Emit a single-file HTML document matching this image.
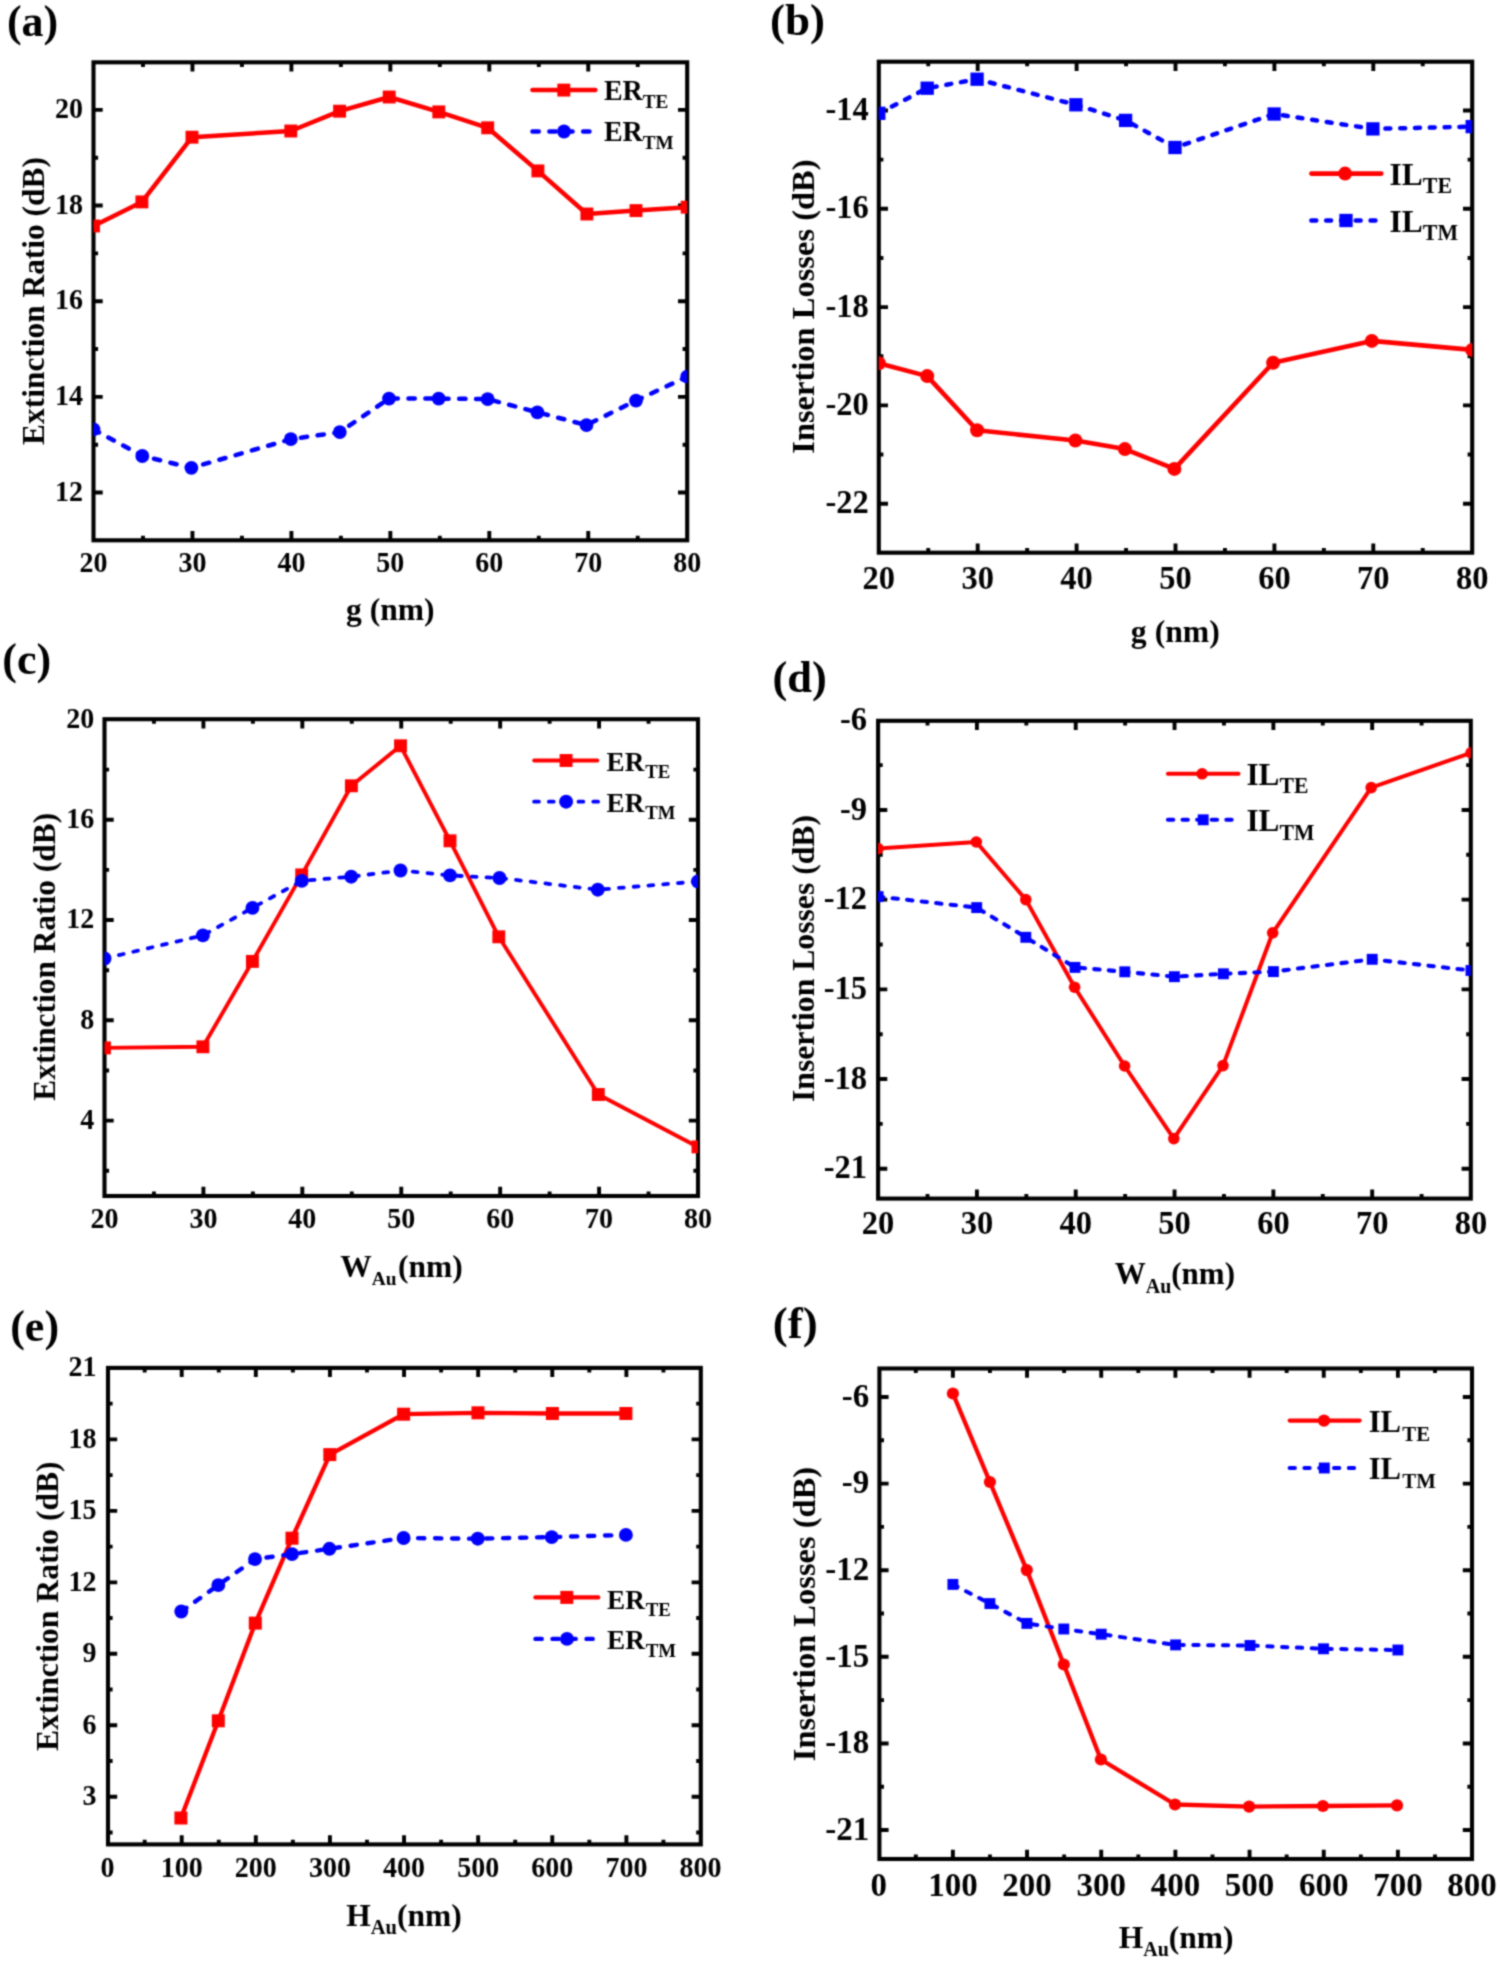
<!DOCTYPE html>
<html><head><meta charset="utf-8"><style>
html,body{margin:0;padding:0;background:#fff;}
svg{display:block;}
text{font-family:"Liberation Serif", serif;font-weight:bold;fill:#000;}
</style></head><body>
<svg xmlns="http://www.w3.org/2000/svg" width="1500" height="1961" viewBox="0 0 1500 1961">
<defs><filter id="soft" color-interpolation-filters="sRGB" x="0" y="0" width="100%" height="100%" filterUnits="userSpaceOnUse"><feConvolveMatrix order="5" kernelMatrix="0.00009 0.00198 0.00548 0.00198 0.00009 0.00198 0.04220 0.11707 0.04220 0.00198 0.00548 0.11707 0.32480 0.11707 0.00548 0.00198 0.04220 0.11707 0.04220 0.00198 0.00009 0.00198 0.00548 0.00198 0.00009" divisor="1" edgeMode="duplicate" preserveAlpha="false"/></filter></defs>
<rect width="1500" height="1961" fill="#fff"/>
<g filter="url(#soft)">
<rect width="1500" height="1961" fill="#fff"/>
<clipPath id="clipa"><rect x="93.5" y="62.3" width="593.7" height="478"/></clipPath>
<path d="M192.45 540.3v-9.2M192.45 62.3v9.2M291.4 540.3v-9.2M291.4 62.3v9.2M390.35 540.3v-9.2M390.35 62.3v9.2M489.3 540.3v-9.2M489.3 62.3v9.2M588.25 540.3v-9.2M588.25 62.3v9.2M142.98 540.3v-4.6M142.98 62.3v4.6M241.93 540.3v-4.6M241.93 62.3v4.6M340.88 540.3v-4.6M340.88 62.3v4.6M439.83 540.3v-4.6M439.83 62.3v4.6M538.78 540.3v-4.6M538.78 62.3v4.6M637.73 540.3v-4.6M637.73 62.3v4.6M93.5 492.56h9.2M687.2 492.56h-9.2M93.5 396.88h9.2M687.2 396.88h-9.2M93.5 301.2h9.2M687.2 301.2h-9.2M93.5 205.52h9.2M687.2 205.52h-9.2M93.5 109.84h9.2M687.2 109.84h-9.2M93.5 444.72h4.6M687.2 444.72h-4.6M93.5 349.04h4.6M687.2 349.04h-4.6M93.5 253.36h4.6M687.2 253.36h-4.6M93.5 157.68h4.6M687.2 157.68h-4.6" stroke="#000" stroke-width="3.9" fill="none"/>
<rect x="93.5" y="62.3" width="593.7" height="478" fill="none" stroke="#000" stroke-width="4.1"/>
<text transform="translate(82.9 500.82) scale(1 1.04)" text-anchor="end" font-size="28">12</text>
<text transform="translate(82.9 405.14) scale(1 1.04)" text-anchor="end" font-size="28">14</text>
<text transform="translate(82.9 309.46) scale(1 1.04)" text-anchor="end" font-size="28">16</text>
<text transform="translate(82.9 213.78) scale(1 1.04)" text-anchor="end" font-size="28">18</text>
<text transform="translate(82.9 118.1) scale(1 1.04)" text-anchor="end" font-size="28">20</text>
<text transform="translate(93.5 571.5) scale(1 1.04)" text-anchor="middle" font-size="28">20</text>
<text transform="translate(192.45 571.5) scale(1 1.04)" text-anchor="middle" font-size="28">30</text>
<text transform="translate(291.4 571.5) scale(1 1.04)" text-anchor="middle" font-size="28">40</text>
<text transform="translate(390.35 571.5) scale(1 1.04)" text-anchor="middle" font-size="28">50</text>
<text transform="translate(489.3 571.5) scale(1 1.04)" text-anchor="middle" font-size="28">60</text>
<text transform="translate(588.25 571.5) scale(1 1.04)" text-anchor="middle" font-size="28">70</text>
<text transform="translate(687.2 571.5) scale(1 1.04)" text-anchor="middle" font-size="28">80</text>
<text transform="translate(43.6 301) rotate(-90) scale(1 1.0)" text-anchor="middle" font-size="31.4">Extinction Ratio (dB)</text>
<text transform="translate(390.2 620) scale(1 1.0)" text-anchor="middle" font-size="31.5">g (nm)</text>
<text transform="translate(6.9 35.6) scale(1 1.0)" font-size="44">(a)</text>
<g clip-path="url(#clipa)">
<path d="M93.5 226 L141.9 201.9 L192 137.2 L290.8 131 L339.6 111.2 L389.2 97 L438.8 111.9 L487.7 127.8 L537.9 170.9 L586.9 214 L636 210.6 L687.2 207.2" stroke="#ff0000" stroke-width="4.5" fill="none" stroke-linejoin="round"/>
<path d="M93.5 429.4 L142.3 456 L191.4 467.8 L290.8 439.2 L339.8 432.1 L389 398.6 L438.7 398.6 L487.7 399.1 L537.4 412.3 L586.5 425.1 L636 400.6 L687.2 376.7" stroke="#0000ff" stroke-width="4.5" fill="none" stroke-linejoin="round" stroke-dasharray="6.3 10.6" stroke-linecap="round"/>
<rect x="87.05" y="219.55" width="12.9" height="12.9" fill="#ff0000"/>
<rect x="135.45" y="195.45" width="12.9" height="12.9" fill="#ff0000"/>
<rect x="185.55" y="130.75" width="12.9" height="12.9" fill="#ff0000"/>
<rect x="284.35" y="124.55" width="12.9" height="12.9" fill="#ff0000"/>
<rect x="333.15" y="104.75" width="12.9" height="12.9" fill="#ff0000"/>
<rect x="382.75" y="90.55" width="12.9" height="12.9" fill="#ff0000"/>
<rect x="432.35" y="105.45" width="12.9" height="12.9" fill="#ff0000"/>
<rect x="481.25" y="121.35" width="12.9" height="12.9" fill="#ff0000"/>
<rect x="531.45" y="164.45" width="12.9" height="12.9" fill="#ff0000"/>
<rect x="580.45" y="207.55" width="12.9" height="12.9" fill="#ff0000"/>
<rect x="629.55" y="204.15" width="12.9" height="12.9" fill="#ff0000"/>
<rect x="680.75" y="200.75" width="12.9" height="12.9" fill="#ff0000"/>
<circle cx="93.5" cy="429.4" r="6.9" fill="#0000ff"/>
<circle cx="142.3" cy="456" r="6.9" fill="#0000ff"/>
<circle cx="191.4" cy="467.8" r="6.9" fill="#0000ff"/>
<circle cx="290.8" cy="439.2" r="6.9" fill="#0000ff"/>
<circle cx="339.8" cy="432.1" r="6.9" fill="#0000ff"/>
<circle cx="389" cy="398.6" r="6.9" fill="#0000ff"/>
<circle cx="438.7" cy="398.6" r="6.9" fill="#0000ff"/>
<circle cx="487.7" cy="399.1" r="6.9" fill="#0000ff"/>
<circle cx="537.4" cy="412.3" r="6.9" fill="#0000ff"/>
<circle cx="586.5" cy="425.1" r="6.9" fill="#0000ff"/>
<circle cx="636" cy="400.6" r="6.9" fill="#0000ff"/>
<circle cx="687.2" cy="376.7" r="6.9" fill="#0000ff"/>
</g>
<path d="M532.45 90.1H595.35" stroke="#ff0000" stroke-width="4.5" stroke-linecap="round"/>
<rect x="557.35" y="83.65" width="12.9" height="12.9" fill="#ff0000"/>
<text transform="translate(603.9 100.4) scale(1 1.03)" font-size="28">ER<tspan font-size="19.2" dx="0" dy="7.3">TE</tspan></text>
<path d="M532.45 131.5H591" stroke="#0000ff" stroke-width="4.5" stroke-linecap="round" stroke-dasharray="6.3 10.6"/>
<circle cx="564" cy="131.5" r="6.9" fill="#0000ff"/>
<text transform="translate(603.9 141.4) scale(1 1.03)" font-size="28">ER<tspan font-size="19.2" dx="0" dy="7.3">TM</tspan></text>
<clipPath id="clipb"><rect x="878.8" y="61.7" width="593.4" height="491"/></clipPath>
<path d="M977.7 552.7v-9.2M977.7 61.7v9.2M1076.6 552.7v-9.2M1076.6 61.7v9.2M1175.5 552.7v-9.2M1175.5 61.7v9.2M1274.4 552.7v-9.2M1274.4 61.7v9.2M1373.3 552.7v-9.2M1373.3 61.7v9.2M928.25 552.7v-4.6M928.25 61.7v4.6M1027.15 552.7v-4.6M1027.15 61.7v4.6M1126.05 552.7v-4.6M1126.05 61.7v4.6M1224.95 552.7v-4.6M1224.95 61.7v4.6M1323.85 552.7v-4.6M1323.85 61.7v4.6M1422.75 552.7v-4.6M1422.75 61.7v4.6M878.8 110.5h9.2M1472.2 110.5h-9.2M878.8 208.8h9.2M1472.2 208.8h-9.2M878.8 307.1h9.2M1472.2 307.1h-9.2M878.8 405.4h9.2M1472.2 405.4h-9.2M878.8 503.7h9.2M1472.2 503.7h-9.2M878.8 159.65h4.6M1472.2 159.65h-4.6M878.8 257.95h4.6M1472.2 257.95h-4.6M878.8 356.25h4.6M1472.2 356.25h-4.6M878.8 454.55h4.6M1472.2 454.55h-4.6" stroke="#000" stroke-width="3.9" fill="none"/>
<rect x="878.8" y="61.7" width="593.4" height="491" fill="none" stroke="#000" stroke-width="4.1"/>
<text transform="translate(868.7 120.09) scale(1 1.04)" text-anchor="end" font-size="32.5">-14</text>
<text transform="translate(868.7 218.39) scale(1 1.04)" text-anchor="end" font-size="32.5">-16</text>
<text transform="translate(868.7 316.69) scale(1 1.04)" text-anchor="end" font-size="32.5">-18</text>
<text transform="translate(868.7 414.99) scale(1 1.04)" text-anchor="end" font-size="32.5">-20</text>
<text transform="translate(868.7 513.29) scale(1 1.04)" text-anchor="end" font-size="32.5">-22</text>
<text transform="translate(878.8 589) scale(1 1.04)" text-anchor="middle" font-size="32.5">20</text>
<text transform="translate(977.7 589) scale(1 1.04)" text-anchor="middle" font-size="32.5">30</text>
<text transform="translate(1076.6 589) scale(1 1.04)" text-anchor="middle" font-size="32.5">40</text>
<text transform="translate(1175.5 589) scale(1 1.04)" text-anchor="middle" font-size="32.5">50</text>
<text transform="translate(1274.4 589) scale(1 1.04)" text-anchor="middle" font-size="32.5">60</text>
<text transform="translate(1373.3 589) scale(1 1.04)" text-anchor="middle" font-size="32.5">70</text>
<text transform="translate(1472.2 589) scale(1 1.04)" text-anchor="middle" font-size="32.5">80</text>
<text transform="translate(813.6 306.6) rotate(-90) scale(1 1.0)" text-anchor="middle" font-size="32.5">Insertion Losses (dB)</text>
<text transform="translate(1175.3 642) scale(1 1.0)" text-anchor="middle" font-size="31.7">g (nm)</text>
<text transform="translate(770.1 35) scale(1 1.0)" font-size="45">(b)</text>
<g clip-path="url(#clipb)">
<path d="M878.8 363.3 L927.2 376.1 L977.1 430.3 L1075.4 440.5 L1124.9 449.1 L1174.4 468.9 L1273.1 362.7 L1371.8 340.9 L1472.2 349.9" stroke="#ff0000" stroke-width="4.6" fill="none" stroke-linejoin="round"/>
<path d="M878.8 113.3 L927.2 88.2 L977.1 79.2 L1075.9 104.8 L1125.6 120.4 L1175 147.5 L1274.1 114 L1372.9 128.9 L1472.2 126.6" stroke="#0000ff" stroke-width="4.5" fill="none" stroke-linejoin="round" stroke-dasharray="4.9 9.9" stroke-linecap="round"/>
<circle cx="878.8" cy="363.3" r="7" fill="#ff0000"/>
<circle cx="927.2" cy="376.1" r="7" fill="#ff0000"/>
<circle cx="977.1" cy="430.3" r="7" fill="#ff0000"/>
<circle cx="1075.4" cy="440.5" r="7" fill="#ff0000"/>
<circle cx="1124.9" cy="449.1" r="7" fill="#ff0000"/>
<circle cx="1174.4" cy="468.9" r="7" fill="#ff0000"/>
<circle cx="1273.1" cy="362.7" r="7" fill="#ff0000"/>
<circle cx="1371.8" cy="340.9" r="7" fill="#ff0000"/>
<circle cx="1472.2" cy="349.9" r="7" fill="#ff0000"/>
<rect x="872.15" y="106.65" width="13.3" height="13.3" fill="#0000ff"/>
<rect x="920.55" y="81.55" width="13.3" height="13.3" fill="#0000ff"/>
<rect x="970.45" y="72.55" width="13.3" height="13.3" fill="#0000ff"/>
<rect x="1069.25" y="98.15" width="13.3" height="13.3" fill="#0000ff"/>
<rect x="1118.95" y="113.75" width="13.3" height="13.3" fill="#0000ff"/>
<rect x="1168.35" y="140.85" width="13.3" height="13.3" fill="#0000ff"/>
<rect x="1267.45" y="107.35" width="13.3" height="13.3" fill="#0000ff"/>
<rect x="1366.25" y="122.25" width="13.3" height="13.3" fill="#0000ff"/>
<rect x="1465.55" y="119.95" width="13.3" height="13.3" fill="#0000ff"/>
</g>
<path d="M1311.4 173.6H1381.3" stroke="#ff0000" stroke-width="4.6" stroke-linecap="round"/>
<circle cx="1345.1" cy="173.6" r="7" fill="#ff0000"/>
<text transform="translate(1389.6 184.8) scale(1 1.03)" font-size="31.5">IL<tspan font-size="21.9" dx="0" dy="8.3">TE</tspan></text>
<path d="M1311.35 220.5H1376" stroke="#0000ff" stroke-width="4.5" stroke-linecap="round" stroke-dasharray="4.9 9.9"/>
<rect x="1339.35" y="213.85" width="13.3" height="13.3" fill="#0000ff"/>
<text transform="translate(1389.6 231.8) scale(1 1.03)" font-size="31.5">IL<tspan font-size="21.9" dx="0" dy="8.3">TM</tspan></text>
<clipPath id="clipc"><rect x="104.5" y="719.2" width="593.5" height="476.8"/></clipPath>
<path d="M203.42 1196v-9.2M203.42 719.2v9.2M302.33 1196v-9.2M302.33 719.2v9.2M401.25 1196v-9.2M401.25 719.2v9.2M500.17 1196v-9.2M500.17 719.2v9.2M599.08 1196v-9.2M599.08 719.2v9.2M153.96 1196v-4.6M153.96 719.2v4.6M252.88 1196v-4.6M252.88 719.2v4.6M351.79 1196v-4.6M351.79 719.2v4.6M450.71 1196v-4.6M450.71 719.2v4.6M549.62 1196v-4.6M549.62 719.2v4.6M648.54 1196v-4.6M648.54 719.2v4.6M104.5 1120.59h9.2M698 1120.59h-9.2M104.5 1020.32h9.2M698 1020.32h-9.2M104.5 920.05h9.2M698 920.05h-9.2M104.5 819.77h9.2M698 819.77h-9.2M104.5 1170.73h4.6M698 1170.73h-4.6M104.5 1070.46h4.6M698 1070.46h-4.6M104.5 970.18h4.6M698 970.18h-4.6M104.5 869.91h4.6M698 869.91h-4.6M104.5 769.64h4.6M698 769.64h-4.6" stroke="#000" stroke-width="3.9" fill="none"/>
<rect x="104.5" y="719.2" width="593.5" height="476.8" fill="none" stroke="#000" stroke-width="4.1"/>
<text transform="translate(94.3 1128.85) scale(1 1.04)" text-anchor="end" font-size="28">4</text>
<text transform="translate(94.3 1028.58) scale(1 1.04)" text-anchor="end" font-size="28">8</text>
<text transform="translate(94.3 928.31) scale(1 1.04)" text-anchor="end" font-size="28">12</text>
<text transform="translate(94.3 828.03) scale(1 1.04)" text-anchor="end" font-size="28">16</text>
<text transform="translate(94.3 727.76) scale(1 1.04)" text-anchor="end" font-size="28">20</text>
<text transform="translate(104.5 1228) scale(1 1.04)" text-anchor="middle" font-size="28">20</text>
<text transform="translate(203.42 1228) scale(1 1.04)" text-anchor="middle" font-size="28">30</text>
<text transform="translate(302.33 1228) scale(1 1.04)" text-anchor="middle" font-size="28">40</text>
<text transform="translate(401.25 1228) scale(1 1.04)" text-anchor="middle" font-size="28">50</text>
<text transform="translate(500.17 1228) scale(1 1.04)" text-anchor="middle" font-size="28">60</text>
<text transform="translate(599.08 1228) scale(1 1.04)" text-anchor="middle" font-size="28">70</text>
<text transform="translate(698 1228) scale(1 1.04)" text-anchor="middle" font-size="28">80</text>
<text transform="translate(54.6 956.8) rotate(-90) scale(1 1.0)" text-anchor="middle" font-size="31.4">Extinction Ratio (dB)</text>
<text transform="translate(340.2 1276.7) scale(1 1.0)" font-size="31.5">W<tspan font-size="19.4" dy="7.8">Au</tspan><tspan dx="1.4" dy="-7.8" font-size="31.5">(nm)</tspan></text>
<text transform="translate(2.3 673.5) scale(1 1.0)" font-size="44">(c)</text>
<g clip-path="url(#clipc)">
<path d="M104.5 1047.9 L202.9 1046.8 L252.4 961.4 L301.7 874.9 L351.4 785.8 L400.5 745.8 L450 840.8 L498.8 936.8 L598.3 1094.5 L698 1146.9" stroke="#ff0000" stroke-width="3.9" fill="none" stroke-linejoin="round"/>
<path d="M104.5 958.5 L202.9 935.4 L252.4 907.9 L301.7 880.9 L351.2 876.7 L400.5 870.5 L450 875.4 L499.5 878 L597.8 889.7 L698 881.5" stroke="#0000ff" stroke-width="3.8" fill="none" stroke-linejoin="round" stroke-dasharray="4.8 10.0" stroke-linecap="round"/>
<rect x="98.05" y="1041.45" width="12.9" height="12.9" fill="#ff0000"/>
<rect x="196.45" y="1040.35" width="12.9" height="12.9" fill="#ff0000"/>
<rect x="245.95" y="954.95" width="12.9" height="12.9" fill="#ff0000"/>
<rect x="295.25" y="868.45" width="12.9" height="12.9" fill="#ff0000"/>
<rect x="344.95" y="779.35" width="12.9" height="12.9" fill="#ff0000"/>
<rect x="394.05" y="739.35" width="12.9" height="12.9" fill="#ff0000"/>
<rect x="443.55" y="834.35" width="12.9" height="12.9" fill="#ff0000"/>
<rect x="492.35" y="930.35" width="12.9" height="12.9" fill="#ff0000"/>
<rect x="591.85" y="1088.05" width="12.9" height="12.9" fill="#ff0000"/>
<rect x="691.55" y="1140.45" width="12.9" height="12.9" fill="#ff0000"/>
<circle cx="104.5" cy="958.5" r="6.95" fill="#0000ff"/>
<circle cx="202.9" cy="935.4" r="6.95" fill="#0000ff"/>
<circle cx="252.4" cy="907.9" r="6.95" fill="#0000ff"/>
<circle cx="301.7" cy="880.9" r="6.95" fill="#0000ff"/>
<circle cx="351.2" cy="876.7" r="6.95" fill="#0000ff"/>
<circle cx="400.5" cy="870.5" r="6.95" fill="#0000ff"/>
<circle cx="450" cy="875.4" r="6.95" fill="#0000ff"/>
<circle cx="499.5" cy="878" r="6.95" fill="#0000ff"/>
<circle cx="597.8" cy="889.7" r="6.95" fill="#0000ff"/>
<circle cx="698" cy="881.5" r="6.95" fill="#0000ff"/>
</g>
<path d="M534.15 760.5H597.35" stroke="#ff0000" stroke-width="3.9" stroke-linecap="round"/>
<rect x="559.65" y="754.05" width="12.9" height="12.9" fill="#ff0000"/>
<text transform="translate(606.5 770.9) scale(1 1.03)" font-size="27.2">ER<tspan font-size="18.7" dx="1" dy="6.8">TE</tspan></text>
<path d="M534.1 801.7H598.1" stroke="#0000ff" stroke-width="3.8" stroke-linecap="round" stroke-dasharray="4.8 10.0"/>
<circle cx="566.1" cy="801.7" r="6.95" fill="#0000ff"/>
<text transform="translate(606.5 812.1) scale(1 1.03)" font-size="27.2">ER<tspan font-size="18.7" dx="1" dy="6.8">TM</tspan></text>
<clipPath id="clipd"><rect x="878.1" y="720.8" width="592.7" height="477.8"/></clipPath>
<path d="M976.92 1198.6v-9.2M976.92 720.8v9.2M1075.73 1198.6v-9.2M1075.73 720.8v9.2M1174.55 1198.6v-9.2M1174.55 720.8v9.2M1273.37 1198.6v-9.2M1273.37 720.8v9.2M1372.18 1198.6v-9.2M1372.18 720.8v9.2M927.51 1198.6v-4.6M927.51 720.8v4.6M1026.33 1198.6v-4.6M1026.33 720.8v4.6M1125.14 1198.6v-4.6M1125.14 720.8v4.6M1223.96 1198.6v-4.6M1223.96 720.8v4.6M1322.78 1198.6v-4.6M1322.78 720.8v4.6M1421.59 1198.6v-4.6M1421.59 720.8v4.6M878.1 809.98h9.2M1470.8 809.98h-9.2M878.1 899.66h9.2M1470.8 899.66h-9.2M878.1 989.34h9.2M1470.8 989.34h-9.2M878.1 1079.02h9.2M1470.8 1079.02h-9.2M878.1 1168.71h9.2M1470.8 1168.71h-9.2M878.1 765.14h4.6M1470.8 765.14h-4.6M878.1 854.82h4.6M1470.8 854.82h-4.6M878.1 944.5h4.6M1470.8 944.5h-4.6M878.1 1034.18h4.6M1470.8 1034.18h-4.6M878.1 1123.87h4.6M1470.8 1123.87h-4.6" stroke="#000" stroke-width="3.9" fill="none"/>
<rect x="878.1" y="720.8" width="592.7" height="477.8" fill="none" stroke="#000" stroke-width="4.1"/>
<text transform="translate(867 729.89) scale(1 1.04)" text-anchor="end" font-size="32.5">-6</text>
<text transform="translate(867 819.57) scale(1 1.04)" text-anchor="end" font-size="32.5">-9</text>
<text transform="translate(867 909.25) scale(1 1.04)" text-anchor="end" font-size="32.5">-12</text>
<text transform="translate(867 998.93) scale(1 1.04)" text-anchor="end" font-size="32.5">-15</text>
<text transform="translate(867 1088.61) scale(1 1.04)" text-anchor="end" font-size="32.5">-18</text>
<text transform="translate(867 1178.29) scale(1 1.04)" text-anchor="end" font-size="32.5">-21</text>
<text transform="translate(878.1 1234) scale(1 1.04)" text-anchor="middle" font-size="32.5">20</text>
<text transform="translate(976.92 1234) scale(1 1.04)" text-anchor="middle" font-size="32.5">30</text>
<text transform="translate(1075.73 1234) scale(1 1.04)" text-anchor="middle" font-size="32.5">40</text>
<text transform="translate(1174.55 1234) scale(1 1.04)" text-anchor="middle" font-size="32.5">50</text>
<text transform="translate(1273.37 1234) scale(1 1.04)" text-anchor="middle" font-size="32.5">60</text>
<text transform="translate(1372.18 1234) scale(1 1.04)" text-anchor="middle" font-size="32.5">70</text>
<text transform="translate(1471 1234) scale(1 1.04)" text-anchor="middle" font-size="32.5">80</text>
<text transform="translate(813.6 958.5) rotate(-90) scale(1 1.0)" text-anchor="middle" font-size="31.7">Insertion Losses (dB)</text>
<text transform="translate(1114.7 1284.4) scale(1 1.0)" font-size="31">W<tspan font-size="20" dy="8.6">Au</tspan><tspan dx="0" dy="-8.6" font-size="31">(nm)</tspan></text>
<text transform="translate(772.4 692.2) scale(1 1.0)" font-size="44.5">(d)</text>
<g clip-path="url(#clipd)">
<path d="M878.1 848.6 L976.3 842 L1025.8 899.6 L1074.6 987.2 L1124.6 1066 L1173.8 1138.6 L1223 1065.6 L1272.7 932.8 L1371.2 787.6 L1471 752.8" stroke="#ff0000" stroke-width="4" fill="none" stroke-linejoin="round"/>
<path d="M878.1 896.6 L976.7 907.6 L1025.8 937.3 L1075 967.4 L1124.8 971.8 L1174.4 976.7 L1223.4 973.8 L1273.4 971.6 L1372.2 959.3 L1471 970.5" stroke="#0000ff" stroke-width="4.1" fill="none" stroke-linejoin="round" stroke-dasharray="5.3 9.3" stroke-linecap="round"/>
<circle cx="878.1" cy="848.6" r="5.8" fill="#ff0000"/>
<circle cx="976.3" cy="842" r="5.8" fill="#ff0000"/>
<circle cx="1025.8" cy="899.6" r="5.8" fill="#ff0000"/>
<circle cx="1074.6" cy="987.2" r="5.8" fill="#ff0000"/>
<circle cx="1124.6" cy="1066" r="5.8" fill="#ff0000"/>
<circle cx="1173.8" cy="1138.6" r="5.8" fill="#ff0000"/>
<circle cx="1223" cy="1065.6" r="5.8" fill="#ff0000"/>
<circle cx="1272.7" cy="932.8" r="5.8" fill="#ff0000"/>
<circle cx="1371.2" cy="787.6" r="5.8" fill="#ff0000"/>
<circle cx="1471" cy="752.8" r="5.8" fill="#ff0000"/>
<rect x="872.65" y="891.15" width="10.9" height="10.9" fill="#0000ff"/>
<rect x="971.25" y="902.15" width="10.9" height="10.9" fill="#0000ff"/>
<rect x="1020.35" y="931.85" width="10.9" height="10.9" fill="#0000ff"/>
<rect x="1069.55" y="961.95" width="10.9" height="10.9" fill="#0000ff"/>
<rect x="1119.35" y="966.35" width="10.9" height="10.9" fill="#0000ff"/>
<rect x="1168.95" y="971.25" width="10.9" height="10.9" fill="#0000ff"/>
<rect x="1217.95" y="968.35" width="10.9" height="10.9" fill="#0000ff"/>
<rect x="1267.95" y="966.15" width="10.9" height="10.9" fill="#0000ff"/>
<rect x="1366.75" y="953.85" width="10.9" height="10.9" fill="#0000ff"/>
<rect x="1465.55" y="965.05" width="10.9" height="10.9" fill="#0000ff"/>
</g>
<path d="M1167.9 773.8H1238.5" stroke="#ff0000" stroke-width="4" stroke-linecap="round"/>
<circle cx="1202.1" cy="773.8" r="5.8" fill="#ff0000"/>
<text transform="translate(1246.4 784.6) scale(1 1.03)" font-size="31.3">IL<tspan font-size="21.7" dx="0" dy="8.4">TE</tspan></text>
<path d="M1167.95 819.8H1231.7" stroke="#0000ff" stroke-width="4.1" stroke-linecap="round" stroke-dasharray="5.3 9.3"/>
<rect x="1197.75" y="814.35" width="10.9" height="10.9" fill="#0000ff"/>
<text transform="translate(1246.4 831) scale(1 1.03)" font-size="31.3">IL<tspan font-size="21.7" dx="0" dy="8.4">TM</tspan></text>
<clipPath id="clipe"><rect x="108" y="1367.9" width="592.8" height="476.5"/></clipPath>
<path d="M181.71 1844.4v-9.2M181.71 1367.9v9.2M255.82 1844.4v-9.2M255.82 1367.9v9.2M329.94 1844.4v-9.2M329.94 1367.9v9.2M404.05 1844.4v-9.2M404.05 1367.9v9.2M478.16 1844.4v-9.2M478.16 1367.9v9.2M552.27 1844.4v-9.2M552.27 1367.9v9.2M626.39 1844.4v-9.2M626.39 1367.9v9.2M144.66 1844.4v-4.6M144.66 1367.9v4.6M218.77 1844.4v-4.6M218.77 1367.9v4.6M292.88 1844.4v-4.6M292.88 1367.9v4.6M366.99 1844.4v-4.6M366.99 1367.9v4.6M441.11 1844.4v-4.6M441.11 1367.9v4.6M515.22 1844.4v-4.6M515.22 1367.9v4.6M589.33 1844.4v-4.6M589.33 1367.9v4.6M663.44 1844.4v-4.6M663.44 1367.9v4.6M108 1796.75h9.2M700.8 1796.75h-9.2M108 1725.28h9.2M700.8 1725.28h-9.2M108 1653.8h9.2M700.8 1653.8h-9.2M108 1582.33h9.2M700.8 1582.33h-9.2M108 1510.85h9.2M700.8 1510.85h-9.2M108 1439.38h9.2M700.8 1439.38h-9.2M108 1832.49h4.6M700.8 1832.49h-4.6M108 1761.01h4.6M700.8 1761.01h-4.6M108 1689.54h4.6M700.8 1689.54h-4.6M108 1618.06h4.6M700.8 1618.06h-4.6M108 1546.59h4.6M700.8 1546.59h-4.6M108 1475.11h4.6M700.8 1475.11h-4.6M108 1403.64h4.6M700.8 1403.64h-4.6" stroke="#000" stroke-width="3.9" fill="none"/>
<rect x="108" y="1367.9" width="592.8" height="476.5" fill="none" stroke="#000" stroke-width="4.1"/>
<text transform="translate(96.5 1805.01) scale(1 1.04)" text-anchor="end" font-size="28">3</text>
<text transform="translate(96.5 1733.54) scale(1 1.04)" text-anchor="end" font-size="28">6</text>
<text transform="translate(96.5 1662.06) scale(1 1.04)" text-anchor="end" font-size="28">9</text>
<text transform="translate(96.5 1590.59) scale(1 1.04)" text-anchor="end" font-size="28">12</text>
<text transform="translate(96.5 1519.11) scale(1 1.04)" text-anchor="end" font-size="28">15</text>
<text transform="translate(96.5 1447.63) scale(1 1.04)" text-anchor="end" font-size="28">18</text>
<text transform="translate(96.5 1376.16) scale(1 1.04)" text-anchor="end" font-size="28">21</text>
<text transform="translate(107.6 1877) scale(1 1.04)" text-anchor="middle" font-size="28">0</text>
<text transform="translate(181.71 1877) scale(1 1.04)" text-anchor="middle" font-size="28">100</text>
<text transform="translate(255.82 1877) scale(1 1.04)" text-anchor="middle" font-size="28">200</text>
<text transform="translate(329.94 1877) scale(1 1.04)" text-anchor="middle" font-size="28">300</text>
<text transform="translate(404.05 1877) scale(1 1.04)" text-anchor="middle" font-size="28">400</text>
<text transform="translate(478.16 1877) scale(1 1.04)" text-anchor="middle" font-size="28">500</text>
<text transform="translate(552.27 1877) scale(1 1.04)" text-anchor="middle" font-size="28">600</text>
<text transform="translate(626.39 1877) scale(1 1.04)" text-anchor="middle" font-size="28">700</text>
<text transform="translate(700.5 1877) scale(1 1.04)" text-anchor="middle" font-size="28">800</text>
<text transform="translate(58.3 1606.2) rotate(-90) scale(1 1.0)" text-anchor="middle" font-size="31.6">Extinction Ratio (dB)</text>
<text transform="translate(346.2 1925.7) scale(1 1.0)" font-size="31.5">H<tspan font-size="20.5" dy="8.3">Au</tspan><tspan dx="0" dy="-8.3" font-size="31.5">(nm)</tspan></text>
<text transform="translate(10.2 1341.3) scale(1 1.0)" font-size="44">(e)</text>
<g clip-path="url(#clipe)">
<path d="M180.9 1818 L218.3 1720.8 L255.3 1623.1 L292 1538.2 L329.8 1454.6 L403.6 1414.2 L478 1412.8 L552.4 1413.5 L625.9 1413.5" stroke="#ff0000" stroke-width="4.3" fill="none" stroke-linejoin="round"/>
<path d="M181.3 1611.5 L218.3 1585.1 L255 1559.1 L292 1554.1 L329.4 1548.8 L403.6 1538 L477.8 1538.7 L551.7 1537.1 L625.9 1534.9" stroke="#0000ff" stroke-width="4.4" fill="none" stroke-linejoin="round" stroke-dasharray="6.2 10.8" stroke-linecap="round"/>
<rect x="174.4" y="1811.5" width="13" height="13" fill="#ff0000"/>
<rect x="211.8" y="1714.3" width="13" height="13" fill="#ff0000"/>
<rect x="248.8" y="1616.6" width="13" height="13" fill="#ff0000"/>
<rect x="285.5" y="1531.7" width="13" height="13" fill="#ff0000"/>
<rect x="323.3" y="1448.1" width="13" height="13" fill="#ff0000"/>
<rect x="397.1" y="1407.7" width="13" height="13" fill="#ff0000"/>
<rect x="471.5" y="1406.3" width="13" height="13" fill="#ff0000"/>
<rect x="545.9" y="1407" width="13" height="13" fill="#ff0000"/>
<rect x="619.4" y="1407" width="13" height="13" fill="#ff0000"/>
<circle cx="181.3" cy="1611.5" r="6.95" fill="#0000ff"/>
<circle cx="218.3" cy="1585.1" r="6.95" fill="#0000ff"/>
<circle cx="255" cy="1559.1" r="6.95" fill="#0000ff"/>
<circle cx="292" cy="1554.1" r="6.95" fill="#0000ff"/>
<circle cx="329.4" cy="1548.8" r="6.95" fill="#0000ff"/>
<circle cx="403.6" cy="1538" r="6.95" fill="#0000ff"/>
<circle cx="477.8" cy="1538.7" r="6.95" fill="#0000ff"/>
<circle cx="551.7" cy="1537.1" r="6.95" fill="#0000ff"/>
<circle cx="625.9" cy="1534.9" r="6.95" fill="#0000ff"/>
</g>
<path d="M535.45 1597.4H598.25" stroke="#ff0000" stroke-width="4.3" stroke-linecap="round"/>
<rect x="560.3" y="1590.9" width="13" height="13" fill="#ff0000"/>
<text transform="translate(607 1608.5) scale(1 1.03)" font-size="27.2">ER<tspan font-size="18.8" dx="1" dy="7.3">TE</tspan></text>
<path d="M535.5 1638.9H592.7" stroke="#0000ff" stroke-width="4.4" stroke-linecap="round" stroke-dasharray="6.2 10.8"/>
<circle cx="567" cy="1638.9" r="6.95" fill="#0000ff"/>
<text transform="translate(607 1649.2) scale(1 1.03)" font-size="27.2">ER<tspan font-size="18.8" dx="1" dy="7.3">TM</tspan></text>
<clipPath id="clipf"><rect x="879.4" y="1368.5" width="592.6" height="490.5"/></clipPath>
<path d="M952.88 1859v-9.2M952.88 1368.5v9.2M1027.05 1859v-9.2M1027.05 1368.5v9.2M1101.22 1859v-9.2M1101.22 1368.5v9.2M1175.4 1859v-9.2M1175.4 1368.5v9.2M1249.57 1859v-9.2M1249.57 1368.5v9.2M1323.75 1859v-9.2M1323.75 1368.5v9.2M1397.92 1859v-9.2M1397.92 1368.5v9.2M915.79 1859v-4.6M915.79 1368.5v4.6M989.96 1859v-4.6M989.96 1368.5v4.6M1064.14 1859v-4.6M1064.14 1368.5v4.6M1138.31 1859v-4.6M1138.31 1368.5v4.6M1212.49 1859v-4.6M1212.49 1368.5v4.6M1286.66 1859v-4.6M1286.66 1368.5v4.6M1360.84 1859v-4.6M1360.84 1368.5v4.6M1435.01 1859v-4.6M1435.01 1368.5v4.6M879.4 1397h9.2M1472 1397h-9.2M879.4 1483.61h9.2M1472 1483.61h-9.2M879.4 1570.21h9.2M1472 1570.21h-9.2M879.4 1656.82h9.2M1472 1656.82h-9.2M879.4 1743.43h9.2M1472 1743.43h-9.2M879.4 1830.03h9.2M1472 1830.03h-9.2M879.4 1440.3h4.6M1472 1440.3h-4.6M879.4 1526.91h4.6M1472 1526.91h-4.6M879.4 1613.52h4.6M1472 1613.52h-4.6M879.4 1700.12h4.6M1472 1700.12h-4.6M879.4 1786.73h4.6M1472 1786.73h-4.6" stroke="#000" stroke-width="3.9" fill="none"/>
<rect x="879.4" y="1368.5" width="592.6" height="490.5" fill="none" stroke="#000" stroke-width="4.1"/>
<text transform="translate(869.3 1406.73) scale(1 1.04)" text-anchor="end" font-size="33">-6</text>
<text transform="translate(869.3 1493.34) scale(1 1.04)" text-anchor="end" font-size="33">-9</text>
<text transform="translate(869.3 1579.95) scale(1 1.04)" text-anchor="end" font-size="33">-12</text>
<text transform="translate(869.3 1666.55) scale(1 1.04)" text-anchor="end" font-size="33">-15</text>
<text transform="translate(869.3 1753.16) scale(1 1.04)" text-anchor="end" font-size="33">-18</text>
<text transform="translate(869.3 1839.77) scale(1 1.04)" text-anchor="end" font-size="33">-21</text>
<text transform="translate(878.7 1896) scale(1 1.04)" text-anchor="middle" font-size="33">0</text>
<text transform="translate(952.88 1896) scale(1 1.04)" text-anchor="middle" font-size="33">100</text>
<text transform="translate(1027.05 1896) scale(1 1.04)" text-anchor="middle" font-size="33">200</text>
<text transform="translate(1101.22 1896) scale(1 1.04)" text-anchor="middle" font-size="33">300</text>
<text transform="translate(1175.4 1896) scale(1 1.04)" text-anchor="middle" font-size="33">400</text>
<text transform="translate(1249.57 1896) scale(1 1.04)" text-anchor="middle" font-size="33">500</text>
<text transform="translate(1323.75 1896) scale(1 1.04)" text-anchor="middle" font-size="33">600</text>
<text transform="translate(1397.92 1896) scale(1 1.04)" text-anchor="middle" font-size="33">700</text>
<text transform="translate(1472.1 1896) scale(1 1.04)" text-anchor="middle" font-size="33">800</text>
<text transform="translate(815 1614) rotate(-90) scale(1 1.0)" text-anchor="middle" font-size="32.5">Insertion Losses (dB)</text>
<text transform="translate(1118.7 1948.4) scale(1 1.0)" font-size="31.5">H<tspan font-size="20" dy="8">Au</tspan><tspan dx="0" dy="-8" font-size="31.5">(nm)</tspan></text>
<text transform="translate(772.7 1337.6) scale(1 1.0)" font-size="45">(f)</text>
<g clip-path="url(#clipf)">
<path d="M952.9 1393.5 L989.9 1482 L1026.8 1570.1 L1063.8 1664.5 L1100.9 1759.5 L1175 1804.5 L1249.1 1806.6 L1322.9 1806 L1397 1805.4" stroke="#ff0000" stroke-width="4.3" fill="none" stroke-linejoin="round"/>
<path d="M952.9 1584.4 L989.9 1603.6 L1026.9 1623.4 L1063.8 1629 L1101.2 1634.2 L1175.6 1644.9 L1250 1645.5 L1323.5 1648.8 L1397.9 1650" stroke="#0000ff" stroke-width="4" fill="none" stroke-linejoin="round" stroke-dasharray="5.3 9.5" stroke-linecap="round"/>
<circle cx="952.9" cy="1393.5" r="6.1" fill="#ff0000"/>
<circle cx="989.9" cy="1482" r="6.1" fill="#ff0000"/>
<circle cx="1026.8" cy="1570.1" r="6.1" fill="#ff0000"/>
<circle cx="1063.8" cy="1664.5" r="6.1" fill="#ff0000"/>
<circle cx="1100.9" cy="1759.5" r="6.1" fill="#ff0000"/>
<circle cx="1175" cy="1804.5" r="6.1" fill="#ff0000"/>
<circle cx="1249.1" cy="1806.6" r="6.1" fill="#ff0000"/>
<circle cx="1322.9" cy="1806" r="6.1" fill="#ff0000"/>
<circle cx="1397" cy="1805.4" r="6.1" fill="#ff0000"/>
<rect x="947.45" y="1578.95" width="10.9" height="10.9" fill="#0000ff"/>
<rect x="984.45" y="1598.15" width="10.9" height="10.9" fill="#0000ff"/>
<rect x="1021.45" y="1617.95" width="10.9" height="10.9" fill="#0000ff"/>
<rect x="1058.35" y="1623.55" width="10.9" height="10.9" fill="#0000ff"/>
<rect x="1095.75" y="1628.75" width="10.9" height="10.9" fill="#0000ff"/>
<rect x="1170.15" y="1639.45" width="10.9" height="10.9" fill="#0000ff"/>
<rect x="1244.55" y="1640.05" width="10.9" height="10.9" fill="#0000ff"/>
<rect x="1318.05" y="1643.35" width="10.9" height="10.9" fill="#0000ff"/>
<rect x="1392.45" y="1644.55" width="10.9" height="10.9" fill="#0000ff"/>
</g>
<path d="M1289.75 1420.6H1359.55" stroke="#ff0000" stroke-width="4.3" stroke-linecap="round"/>
<circle cx="1324" cy="1420.6" r="6.1" fill="#ff0000"/>
<text transform="translate(1368.65 1432) scale(1 1.03)" font-size="30.7">IL<tspan font-size="20.8" dx="1.3" dy="8.7">TE</tspan></text>
<path d="M1289.6 1468H1354.1" stroke="#0000ff" stroke-width="4" stroke-linecap="round" stroke-dasharray="5.3 9.5"/>
<rect x="1318.85" y="1462.55" width="10.9" height="10.9" fill="#0000ff"/>
<text transform="translate(1368.65 1479) scale(1 1.03)" font-size="30.7">IL<tspan font-size="20.8" dx="1.3" dy="8.7">TM</tspan></text>
</g>
</svg>
</body></html>
